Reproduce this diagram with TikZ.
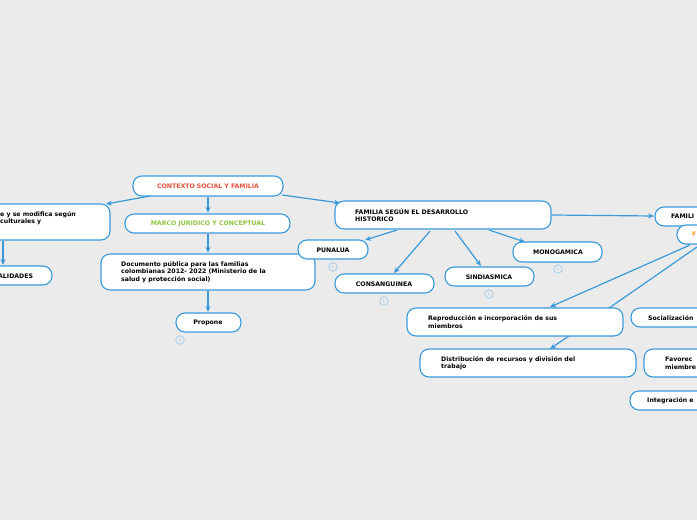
\documentclass[tikz,border=0pt]{standalone}
\usepackage{fontspec}
\setmainfont{DejaVu Sans}
\usetikzlibrary{arrows.meta}
\definecolor{bg}{HTML}{EBEBEB}
\definecolor{bl}{HTML}{3A9AD9}
\definecolor{redt}{HTML}{E8503C}
\definecolor{grn}{HTML}{8DC63F}
\definecolor{org}{HTML}{F7941D}
\definecolor{badge}{HTML}{9CCAEB}
\tikzset{
 box/.style={draw=bl,fill=white,line width=1.1pt,rounded corners=9pt},
 lbl/.style={font=\fontsize{6.2}{7.6}\selectfont\bfseries,align=left,anchor=west,inner sep=0pt},
 clbl/.style={font=\fontsize{6.2}{7.6}\selectfont\bfseries,inner sep=0pt},
 conn/.style={draw=bl,line width=1.2pt,-{Stealth[length=6pt,width=5pt]}},
 bdg/.style={circle,draw=badge,line width=0.7pt,minimum size=8.5pt,inner sep=0pt,text=badge,font=\fontsize{4}{4}\selectfont}
}
\begin{document}
\begin{tikzpicture}[x=1pt,y=-1pt]
\fill[bg] (0,0) rectangle (697,520);
\useasboundingbox (0,0) rectangle (697,520);
\clip (0,0) rectangle (697,520);
\draw[box] (133,176) rectangle (283,196); \node[clbl,text=redt] (ctx) at (208,186) {CONTEXTO SOCIAL Y FAMILIA};
\draw[box] (-120,204) rectangle (110,240); \node[lbl] (lft) at (0,218) {e y se modifica según\\culturales y};
\draw[box] (-100,266) rectangle (52,285); \node[lbl] (lid) at (-2,276) {ALIDADES};
\draw[box] (125,214) rectangle (290,233); \node[clbl,text=grn] (mar) at (208,224) {MARCO JURIDICO Y CONCEPTUAL};
\draw[box] (101,254) rectangle (315,290); \node[lbl] (doc) at (121,272) {Documento pública para las familias\\colombianas 2012- 2022 (Ministerio de la\\salud y protección social)};
\draw[box] (176,313) rectangle (241,332); \node[clbl] (pro) at (208,323) {Propone};
\node[bdg] (b6) at (180,340) {6};
\draw[box] (335,201) rectangle (551,229); \node[lbl] (fam) at (355,215) {FAMILIA SEGÚN EL DESARROLLO\\HISTORICO};
\draw[box] (298,240) rectangle (368,259); \node[clbl] (pun) at (333,250) {PUNALUA};
\node[bdg] at (333,267) {1};
\draw[box] (335,274) rectangle (434,293); \node[clbl] (con) at (384,284) {CONSANGUINEA};
\node[bdg] at (384,301) {1};
\draw[box] (445,267) rectangle (534,286); \node[clbl] (sin) at (489,277) {SINDIASMICA};
\node[bdg] at (489,294) {1};
\draw[box] (513,242) rectangle (602,262); \node[clbl] (mon) at (558,252) {MONOGAMICA};
\node[bdg] at (558,269) {1};
\draw[box] (655,207) rectangle (740,226); \node[lbl] (fm2) at (671,216) {FAMILI};
\draw[conn] (697,247) -- (550,349);
\draw[box] (677,225) rectangle (750,244); \node[lbl,text=org] (fo) at (692,234) {F};
\draw[box] (407,308) rectangle (623,336); \node[lbl] (rep) at (428,322) {Reproducción e incorporación de sus\\miembros};
\draw[box] (420,349) rectangle (636,377); \node[lbl] (dis) at (441,363) {Distribución de recursos y división del\\trabajo};
\draw[box] (631,308) rectangle (740,327); \node[lbl] (soc) at (648,318) {Socialización};
\draw[box] (644,349) rectangle (740,377); \node[lbl] (fav) at (665,363) {Favorec\\miembre};
\draw[box] (630,391) rectangle (740,410); \node[lbl] (int) at (647,401) {Integración e};
\draw[conn] (150,196) -- (106,204);
\draw[conn] (208,197) -- (208,213);
\draw[conn] (282,195) -- (340,203);
\draw[conn] (3,241) -- (3,265);
\draw[conn] (208,234) -- (208,253);
\draw[conn] (208,291) -- (208,312);
\draw[conn] (397,230) -- (365,240);
\draw[conn] (430,231) -- (394,273);
\draw[conn] (455,231) -- (481,266);
\draw[conn] (489,230) -- (525,242);
\draw[conn] (552,215) -- (654,216);
\draw[conn] (690,245) -- (550,307);
\end{tikzpicture}
\end{document}
